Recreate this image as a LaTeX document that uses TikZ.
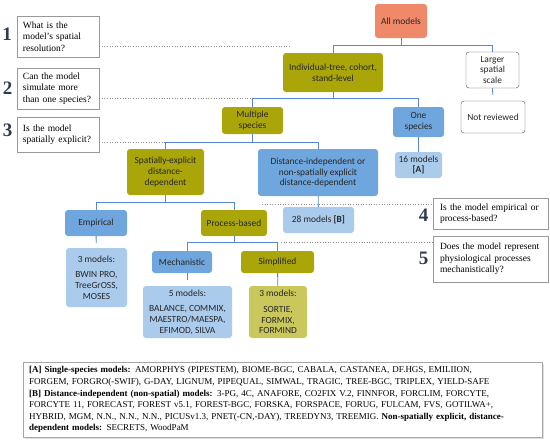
\documentclass[tikz,border=0pt]{standalone}
\usepackage{fontspec}
\setmainfont{Liberation Serif}
\newfontfamily\boxfont{Carlito}
\usetikzlibrary{shadows}
\definecolor{salmonfill}{RGB}{240,136,106}
\definecolor{olivefill}{RGB}{170,165,8}
\definecolor{bluefill}{RGB}{111,166,221}
\definecolor{palefill}{RGB}{170,203,236}
\definecolor{limefill}{RGB}{202,200,92}
\definecolor{linkblue}{RGB}{88,134,208}
\definecolor{numgray}{RGB}{46,58,80}

\begin{document}
\begin{tikzpicture}[
    x=1pt, y=-1pt,
    box/.style={rectangle, rounded corners=3pt, align=center, inner sep=1pt, text=black!85, font=\boxfont\fontsize{9.4}{10.6}\selectfont},
    wh/.style 2 args={minimum width=#1pt, minimum height=#2pt},
    olivebox/.style={box, fill=olivefill},
    bluebox/.style={box, fill=bluefill},
    palebox/.style={box, fill=palefill},
    limebox/.style={box, fill=limefill},
    whitebox/.style={box, draw=black!70, fill=white},
    question/.style={rectangle, draw=black!40, fill=white, align=left, inner xsep=6pt, inner ysep=2pt, font=\fontsize{9.5}{11.5}\selectfont},
    qnum/.style={font=\bfseries\fontsize{19}{19}\selectfont, text=numgray},
    legend/.style={rectangle, draw=black!35, fill=white, align=left, inner xsep=6pt, text width=507pt, font=\fontsize{9}{11.6}\selectfont, drop shadow={shadow xshift=1.5pt, shadow yshift=-1.5pt, opacity=0.25}},
    link/.style={draw=linkblue, line width=0.8pt},
    dots/.style={draw=black!45, dotted, line width=0.6pt}
]
\useasboundingbox (0,0) rectangle (550,447);

\node[box, fill=salmonfill, wh={52}{34}] (all) at (401,21) {All models};
\node[olivebox, wh={100}{39}] (indiv) at (333,72.5) {Individual-tree, cohort,\\stand-level};
\node[whitebox, wh={53}{36}] (larger) at (492.5,70) {Larger\\spatial\\scale};
\node[whitebox, wh={64}{32}] (notrev) at (493,117) {Not reviewed};
\node[olivebox, wh={61}{27}] (multi) at (252.5,120.5) {Multiple\\species};
\node[bluebox, wh={51}{30}] (one) at (418.5,122) {One\\species};
\node[palebox, wh={47}{26}] (sixteen) at (418.5,165) {16 models\\\textbf{[A]}};
\node[olivebox, wh={77}{46}] (spatial) at (165.5,172) {Spatially-explicit\\distance-\\dependent};
\node[bluebox, wh={120}{47}] (distind) at (318,172.5) {Distance-independent or\\non-spatially explicit\\distance-dependent};
\node[bluebox, wh={62}{26}] (empir) at (96,223) {Empirical};
\node[olivebox, wh={66}{26}] (process) at (234,223) {Process-based};
\node[palebox, wh={71}{26}] (twentyeight) at (318.5,220) {28 models \textbf{[B]}};
\node[palebox, wh={61}{59}] (threeA) at (96.5,277.5) {3 models:\\[5pt]BWIN PRO,\\TreeGrOSS,\\MOSES};
\node[bluebox, wh={60}{22}] (mech) at (182,262) {Mechanistic};
\node[olivebox, wh={73}{22}] (simpl) at (277.5,262) {Simplified};
\node[palebox, wh={89}{52}] (five) at (187.5,312) {5 models:\\[5pt]BALANCE, COMMIX,\\MAESTRO/MAESPA,\\EFIMOD, SILVA};
\node[limebox, wh={58}{52}] (threeB) at (278,312) {3 models:\\[5pt]SORTIE,\\FORMIX,\\FORMIND};

\node[question, text width=70pt, wh={82}{41}] (q1) at (58,36.5) {What is the\\model’s spatial\\resolution?};
\node[question, text width=70pt, wh={82}{41}] (q2) at (58,88.5) {Can the model\\simulate more\\than one species?};
\node[question, text width=70pt, wh={82}{35}] (q3) at (58,134.5) {Is the model\\spatially explicit?};
\node[question, text width=101pt, wh={115}{31}] (q4) at (490.5,213.5) {Is the model empirical or\\process-based?};
\node[question, text width=101pt, wh={115}{46}] (q5) at (490.5,259) {Does the model represent\\physiological processes\\mechanistically?};
\node[qnum] (n1) at (7,34.5) {1};
\node[qnum] (n2) at (7.5,88) {2};
\node[qnum] (n3) at (7.5,130) {3};
\node[qnum] (n4) at (423.5,215.5) {4};
\node[qnum] (n5) at (423.5,258.5) {5};

\draw[link] (all.south) -- ++(0,7) -| (indiv.north);
\draw[link] (all.south) -- ++(0,7) -| (larger.north);
\draw[link, shorten >=6pt] (larger.south) -- (notrev.north);
\draw[link] (indiv.south) -- ++(0,6) -| (multi.north);
\draw[link] (indiv.south) -- ++(0,6) -| (one.north);
\draw[link] (one) -- (sixteen);
\draw[link] (multi.south) -- ++(0,8) -| (spatial.north);
\draw[link] (multi.south) -- ++(0,8) -| (distind.north);
\draw[link] (distind) -- (twentyeight);
\draw[link] (spatial.south) -- ++(0,7) -| (empir.north);
\draw[link] (spatial.south) -- ++(0,7) -| (process.north);
\draw[link, shorten >=5pt] (empir) -- (threeA);
\draw[link] (process.south) -- ++(0,6) -| (mech.north -| five.north);
\draw[link] (process.south) -- ++(0,6) -| (simpl.north);
\draw[link, shorten >=6pt] (mech.south -| five.north) -- (five.north);
\draw[link] (simpl) -- (threeB);

\coordinate (d1) at (290,46);
\coordinate (d2) at (252,98);
\coordinate (d3) at (166,142);
\coordinate (d4) at (262,204);
\coordinate (d5) at (281,242);
\draw[dots] (q1.east |- d1) -- (d1);
\draw[dots] (q2.east |- d2) -- (d2);
\draw[dots] (q3.east |- d3) -- (d3);
\draw[dots] (d4) -- (d4 -| q4.west);
\draw[dots] (d5) -- (d5 -| q5.west);

\node[legend, anchor=north west, wh={519}{75}] (notes) at (23,362) {\textbf{[A] Single-species models:} AMORPHYS (PIPESTEM), BIOME-BGC, CABALA, CASTANEA, DF.HGS, EMILIION,\\
FORGEM, FORGRO(-SWIF), G-DAY, LIGNUM, PIPEQUAL, SIMWAL, TRAGIC, TREE-BGC, TRIPLEX, YIELD-SAFE\\
\textbf{[B] Distance-independent (non-spatial) models:} 3-PG, 4C, ANAFORE, CO2FIX V.2, FINNFOR, FORCLIM, FORCYTE,\\
FORCYTE 11, FORECAST, FOREST v5.1, FOREST-BGC, FORSKA, FORSPACE, FORUG, FULCAM, FVS, GOTILWA+,\\
HYBRID, MGM, N.N., N.N., N.N., PICUSv1.3, PNET(-CN,-DAY), TREEDYN3, TREEMIG. \textbf{Non-spatially explicit, distance-}\\
\textbf{dependent models:} SECRETS, WoodPaM};

\end{tikzpicture}
\end{document}
